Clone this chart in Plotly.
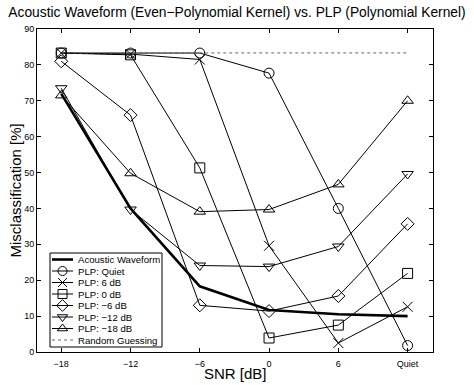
import plotly.graph_objects as go

snr_pos = [-18, -12, -6, 0, 6, 12]
snr_labels = ["\u221218", "\u221212", "\u22126", "0", "6", "Quiet"]

acoustic = [72, 40, 18.3, 11.7, 10.5, 10.0]
plp_quiet = [83.3, 83.3, 83.3, 77.7, 40.0, 1.8]
plp_6 = [83.3, 83.0, 81.5, 29.6, 2.5, 12.6]
plp_0 = [83.3, 82.8, 51.3, 3.9, 7.5, 21.9]
plp_m6 = [81.0, 66.0, 13.0, 11.4, 15.6, 35.7]
plp_m12 = [73.5, 39.7, 24.1, 23.8, 29.4, 49.6]
plp_m18 = [71.5, 49.8, 39.1, 39.7, 46.7, 70.0]
random_guess = [83.33] * 6

series = [
    ("PLP: Quiet", plp_quiet, "circle-open"),
    ("PLP: 6 dB", plp_6, "x-thin-open"),
    ("PLP: 0 dB", plp_0, "square-open"),
    ("PLP: \u22126 dB", plp_m6, "diamond-open"),
    ("PLP: \u221212 dB", plp_m12, "triangle-down-open"),
    ("PLP: \u221218 dB", plp_m18, "triangle-up-open"),
]

# plot area in pixels
L, R, T, B = 37, 433, 29, 352
W, H = 474, 385

fig = go.Figure()
fig.add_trace(go.Scatter(x=snr_pos, y=acoustic, mode="lines", name="Acoustic Waveform",
                         line=dict(color="black", width=2.6), showlegend=False))
for name, vals, sym in series:
    fig.add_trace(go.Scatter(x=snr_pos, y=vals, mode="lines+markers", name=name,
                             line=dict(color="black", width=1), showlegend=False,
                             marker=dict(symbol=sym, size=10, color="black",
                                         line=dict(color="black", width=1))))
fig.add_trace(go.Scatter(x=snr_pos, y=random_guess, mode="lines", name="Random Guessing",
                         line=dict(color="#666666", width=1, dash="dot"), showlegend=False))

# ---- manual legend on a pixel-unit overlay axis ----
lg_left, lg_right, lg_top, lg_bot = 50, 162, 253, 347
fig.add_trace(go.Scatter(x=[lg_left, lg_right, lg_right, lg_left, lg_left],
                         y=[lg_top, lg_top, lg_bot, lg_bot, lg_top],
                         mode="lines", fill="toself", fillcolor="white",
                         line=dict(color="black", width=1), xaxis="x2", yaxis="y2",
                         showlegend=False, hoverinfo="skip"))
legend_items = [("Acoustic Waveform", None, "solid", 2.6, "black")] + \
    [(n, s, "solid", 1, "black") for n, _, s in series] + \
    [("Random Guessing", None, "dot", 1, "#666666")]
row0, row_gap = 259.5, 11.5
x0s, x1s, xm, xt = 52, 73, 62.5, 76
annotations = []
for i, (name, sym, dash, lw, col) in enumerate(legend_items):
    yy = row0 + i * row_gap
    fig.add_trace(go.Scatter(x=[x0s, x1s], y=[yy, yy], mode="lines",
                             line=dict(color=col, width=lw, dash=dash),
                             xaxis="x2", yaxis="y2", showlegend=False, hoverinfo="skip"))
    if sym:
        fig.add_trace(go.Scatter(x=[xm], y=[yy], mode="markers",
                                 marker=dict(symbol=sym, size=9, color="black",
                                             line=dict(color="black", width=1)),
                                 xaxis="x2", yaxis="y2", showlegend=False, hoverinfo="skip"))
    annotations.append(dict(x=xt, y=yy, xref="x2", yref="y2", text=name, showarrow=False,
                            xanchor="left", yanchor="middle",
                            font=dict(size=9.6, color="black")))

# axis titles
annotations.append(dict(x=0.5, y=-(373.5 - B) / (B - T), xref="paper", yref="paper",
                        text="SNR [dB]", showarrow=False, xanchor="center", yanchor="middle",
                        font=dict(size=15, color="black")))
annotations.append(dict(x=-(L - 15) / (R - L), y=0.5, xref="paper", yref="paper",
                        text="Misclassification [%]", showarrow=False, textangle=-90,
                        xanchor="center", yanchor="middle", font=dict(size=15, color="black")))

font = "Liberation Sans, Arial, Helvetica, sans-serif"
axis_common = dict(showline=True, linecolor="black", linewidth=1, mirror="ticks",
                   ticks="inside", ticklen=4, tickcolor="black", showgrid=False,
                   zeroline=False, automargin=False,
                   tickfont=dict(size=9, color="black", family=font))
fig.update_layout(
    width=W, height=H,
    margin=dict(l=L, r=W - R, t=T, b=H - B, autoexpand=False),
    paper_bgcolor="white", plot_bgcolor="white",
    font=dict(family=font, color="black"),
    title=dict(text="Acoustic Waveform (Even\u2212Polynomial Kernel) vs. PLP (Polynomial Kernel)",
               x=0.5, xanchor="center", y=1 - 12 / H, yanchor="middle",
               font=dict(size=13.8, color="black", family=font)),
    xaxis=dict(range=[-20.1, 14.2], tickvals=snr_pos, ticktext=snr_labels,
               ticklabelstandoff=3, **axis_common),
    yaxis=dict(range=[0, 90], tickvals=list(range(0, 91, 10)), **axis_common),
    xaxis2=dict(overlaying="x", range=[L, R], visible=False, fixedrange=True),
    yaxis2=dict(overlaying="y", range=[B, T], visible=False, fixedrange=True),
    annotations=annotations,
    showlegend=False,
)
fig.write_html("out.html", config={"displayModeBar": False},
               post_script="document.body.style.margin='0';document.body.style.padding='0';"
                           "document.body.style.overflow='hidden';")
